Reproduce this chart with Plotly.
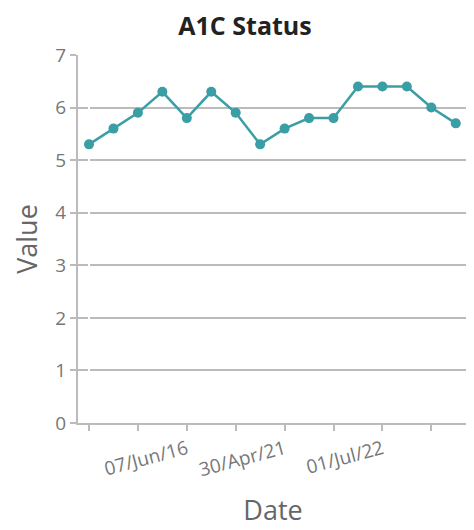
import plotly.graph_objects as go

dates = ["12/Dec/11", "15/Mar/13", "20/Aug/14", "03/Feb/15", "07/Jun/16", "11/Nov/17",
         "22/May/19", "09/Oct/20", "30/Apr/21", "14/Jul/21", "05/Nov/21", "18/Mar/22",
         "01/Jul/22", "10/Oct/22", "23/Jan/23", "28/Apr/23"]
values = [5.3, 5.6, 5.9, 6.3, 5.8, 6.3, 5.9, 5.3, 5.6, 5.8, 5.8, 6.4, 6.4, 6.4, 6.0, 5.7]

tickvals = list(range(0, len(dates), 2))
ticktext = [dates[i] if i % 4 == 0 else "" for i in tickvals]

fig = go.Figure(go.Scatter(
    x=list(range(len(dates))), y=values, mode="lines+markers",
    line=dict(color="#3a9ea5", width=2.5), marker=dict(color="#3a9ea5", size=10),
    cliponaxis=False,
))
fig.update_layout(
    width=474, height=530, paper_bgcolor="white", plot_bgcolor="white",
    font=dict(family="Open Sans", color="#666"),
    title=dict(text="<b>A1C Status</b>", x=0.5, y=0.965, yanchor="middle", xanchor="center",
               font=dict(size=25, color="#222")),
    margin=dict(l=70, r=14, t=47, b=115),
    showlegend=False,
    xaxis=dict(range=[-0.45, 15.5], tickvals=tickvals, ticktext=ticktext, tickangle=-15,
               automargin=False,
               showgrid=False, showline=True, linecolor="#bbb", linewidth=2,
               ticks="outside", ticklen=6, tickcolor="#bbb", tickwidth=2,
               tickfont=dict(size=19, color="#777"),
               title=dict(text="Date", font=dict(size=27, color="#666"), standoff=20)),
    yaxis=dict(range=[0, 7], dtick=1, showgrid=True, gridcolor="#bbb", gridwidth=2,
               automargin=False,
               showline=True, linecolor="#bbb", linewidth=2, zeroline=False,
               ticks="outside", ticklen=6, tickcolor="#bbb", tickwidth=2,
               tickfont=dict(size=19, color="#777"),
               title=dict(text="Value", font=dict(size=27, color="#666"), standoff=12)),
)
fig.write_html("out.html")
